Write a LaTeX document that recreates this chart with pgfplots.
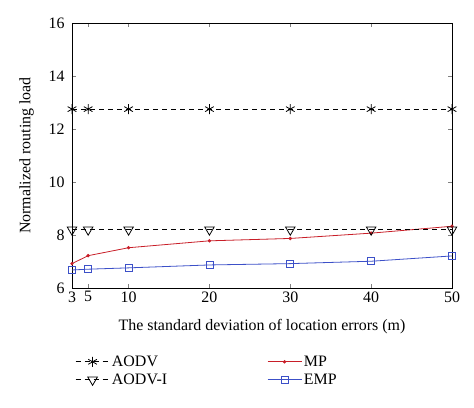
\documentclass[border=0pt]{standalone}
\usepackage{fontspec}
\setmainfont{Liberation Serif}
\usepackage{pgfplots}
\pgfplotsset{compat=1.18}
\begin{document}
\begin{tikzpicture}
\begin{axis}[
    scale only axis,
    width=380bp, height=265bp,
    xmin=3, xmax=50, ymin=6, ymax=16,
    xtick={3,5,10,20,30,40,50},
    ytick={6,8,10,12,14,16},
    tick align=inside,
    major tick length=4bp,
    font=\fontsize{16}{18}\selectfont,
    /pgf/number format/assume math mode=true,
    yticklabel style={xshift=-4bp},
    xlabel={The standard deviation of location errors (m)},
    ylabel={Normalized routing load},
    ylabel style={yshift=8bp},
    xlabel style={yshift=-10bp},
    every axis plot/.append style={line width=0.8bp},
    legend image code/.code={
        \draw[mark repeat=2, mark phase=2] plot coordinates {(0bp,0bp) (17bp,0bp) (34bp,0bp)};},
    legend columns=2,
    legend cell align=left,
    legend style={draw=none, at={(0,-0.24)}, anchor=north west,
        font=\fontsize{16}{18}\selectfont, row sep=2bp,
        /tikz/every even column/.append style={column sep=98bp}},
]
\addplot[black, dash pattern=on 5bp off 4bp, mark=asterisk, mark size=5bp, mark options={solid}]
  coordinates {(3,12.75) (5,12.75) (10,12.75) (20,12.75) (30,12.75) (40,12.75) (50,12.75)};
\addlegendentry{AODV}
\addplot[color={rgb,255:red,200;green,30;blue,40}, mark=*, mark size=1.3bp]
  coordinates {(3,6.92) (5,7.22) (10,7.52) (20,7.78) (30,7.87) (40,8.07) (50,8.33)};
\addlegendentry{MP}
\addplot[black, dash pattern=on 5bp off 4bp, mark=triangle, mark size=5.5bp, mark options={solid, rotate=180}]
  coordinates {(3,8.2) (5,8.2) (10,8.2) (20,8.2) (30,8.2) (40,8.2) (50,8.2)};
\addlegendentry{AODV-I}
\addplot[color={rgb,255:red,60;green,80;blue,200}, mark=square, mark size=3.5bp]
  coordinates {(3,6.68) (5,6.71) (10,6.76) (20,6.87) (30,6.92) (40,7.01) (50,7.21)};
\addlegendentry{EMP}
\end{axis}
\path (current axis.south west) ++(-72bp,-120bp) rectangle ++(474bp,408bp);
\end{tikzpicture}
\end{document}
